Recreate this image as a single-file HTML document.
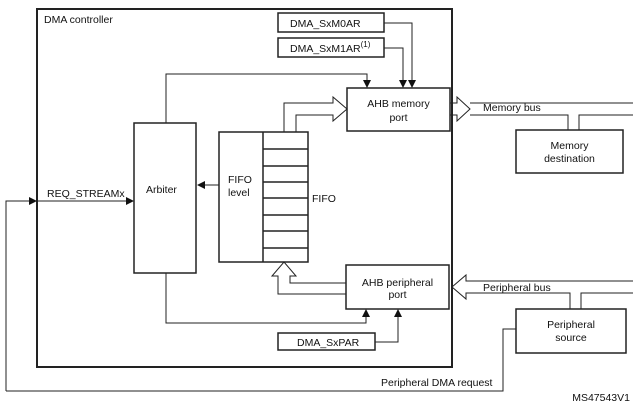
<!DOCTYPE html>
<html><head><meta charset="utf-8"><style>
body{margin:0;background:#fff}
svg text{font-family:"Liberation Sans",Arial,sans-serif;font-size:10.5px;fill:#111}
</style></head><body>
<svg width="633" height="405" viewBox="0 0 633 405" xmlns="http://www.w3.org/2000/svg">
<defs><marker id="a" markerWidth="8" markerHeight="8" refX="7" refY="4" orient="auto" markerUnits="userSpaceOnUse"><path d="M0,0 L8,4 L0,8z" fill="#111"/></marker></defs>
<g fill="none" stroke="#222" stroke-width="1">
<rect x="37" y="9" width="415" height="358" stroke-width="2"/>
<rect x="134" y="123" width="62" height="150" stroke-width="1.5"/>
<rect x="219" y="132" width="89" height="130" stroke-width="1.5"/>
<line x1="263" y1="132" x2="263" y2="262" stroke-width="1.5"/>
<path d="M263 149H308M263 166H308M263 182H308M263 198H308M263 215H308M263 231H308M263 248H308" stroke-width="1.5"/>
<rect x="347" y="88" width="103" height="43" stroke-width="1.5"/>
<rect x="278" y="13" width="106" height="19" stroke-width="1.5"/>
<rect x="278" y="38" width="106" height="19" stroke-width="1.5"/>
<rect x="346" y="265" width="103" height="44" stroke-width="1.5"/>
<rect x="278" y="333" width="97" height="17" stroke-width="1.5"/>
<rect x="516" y="130" width="107" height="43" stroke-width="1.5"/>
<rect x="516" y="309" width="110" height="44" stroke-width="1.5"/>
<line x1="219" y1="185" x2="198" y2="185" marker-end="url(#a)"/>
<path d="M6 391V201H36" marker-end="url(#a)"/>
<line x1="37" y1="201" x2="133" y2="201" marker-end="url(#a)"/>
<path d="M6 391H503V329H516"/>
<path d="M166 123V74H367V87" marker-end="url(#a)"/>
<path d="M384 23H412V87" marker-end="url(#a)"/>
<path d="M384 48H403V87" marker-end="url(#a)"/>
<path d="M166 273V323H366V310" marker-end="url(#a)"/>
<path d="M375 342H398V310" marker-end="url(#a)"/>
<path d="M284 132V103H333V97L347 109L333 121V115H296V132"/>
<path d="M450 103H457V97L470 109L457 121V115H450"/>
<path d="M470 103H633M470 115H568V130M579 130V115H633"/>
<path d="M346 283H290V276H296L284 262L272 276H278V294H346"/>
<path d="M633 281H466V275L452 287L466 299V293H570V309M581 309V293H633"/>
</g>
<text x="44" y="23">DMA controller</text>
<text x="290" y="27">DMA_SxM0AR</text>
<text x="290" y="52">DMA_SxM1AR<tspan dy="-5" font-size="8">(1)</tspan></text>
<text x="398.5" y="107" text-anchor="middle">AHB memory</text>
<text x="398.5" y="121" text-anchor="middle">port</text>
<text x="483" y="111">Memory bus</text>
<text x="569.5" y="149" text-anchor="middle">Memory</text>
<text x="569.5" y="162" text-anchor="middle">destination</text>
<text x="146" y="193">Arbiter</text>
<text x="228" y="183">FIFO</text>
<text x="228" y="196">level</text>
<text x="312" y="202">FIFO</text>
<text x="47" y="197">REQ_STREAMx</text>
<text x="397.5" y="286" text-anchor="middle">AHB peripheral</text>
<text x="397.5" y="298" text-anchor="middle">port</text>
<text x="483" y="291">Peripheral bus</text>
<text x="571" y="328" text-anchor="middle">Peripheral</text>
<text x="571" y="341" text-anchor="middle">source</text>
<text x="297" y="346">DMA_SxPAR</text>
<text x="381" y="386">Peripheral DMA request</text>
<text x="630" y="401" text-anchor="end" font-size="8.5">MS47543V1</text>
</svg>
</body></html>
